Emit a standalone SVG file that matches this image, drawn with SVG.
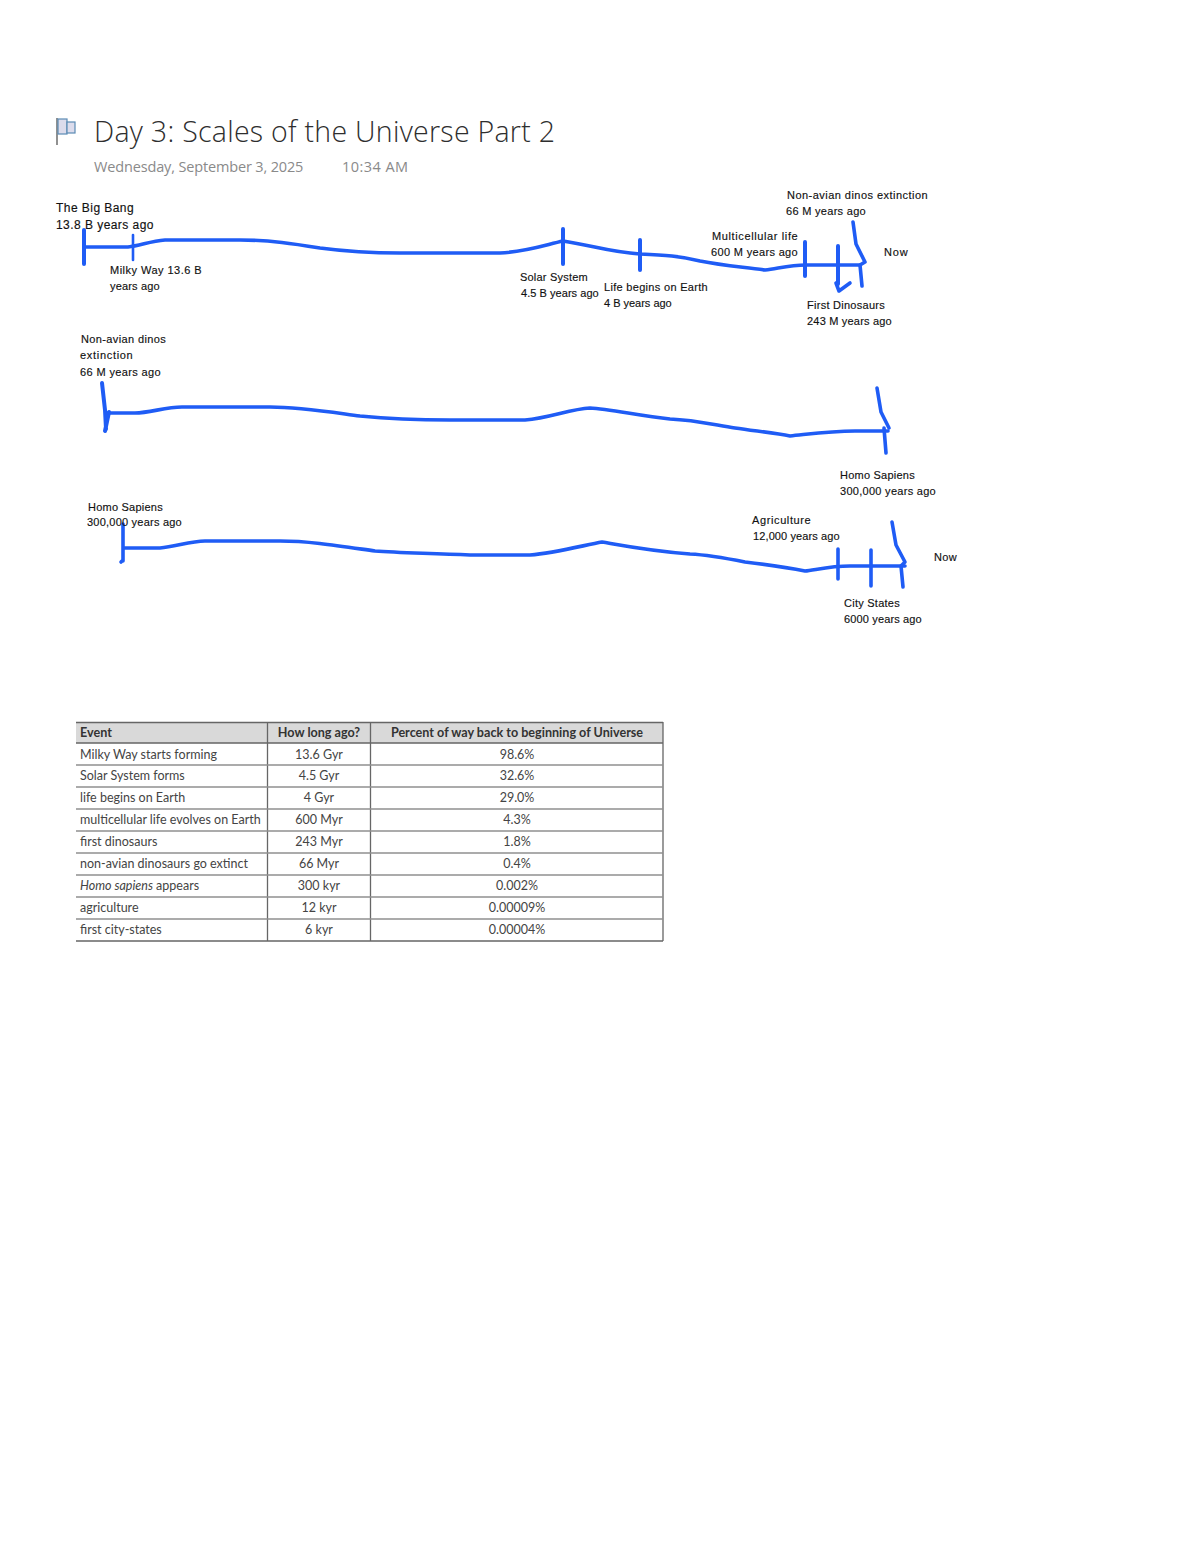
<svg xmlns="http://www.w3.org/2000/svg" width="1200" height="1553" viewBox="0 0 1200 1553">
<style>
.ink{fill:none;stroke:#1f5cf5;stroke-width:3.6;stroke-linecap:round;stroke-linejoin:round}
.tick{stroke-width:4}
.thin{stroke-width:2.600}
.l{font-family:"Liberation Sans",Arial,sans-serif;font-size:11px;fill:#111;letter-spacing:.3px;stroke:#111;stroke-width:.15px}
.big{font-size:12px;letter-spacing:.45px}
.title{font-family:"Open Sans","Liberation Sans",sans-serif;font-weight:300;font-size:28.500px;fill:#2e2e2e}
.sub{font-family:"Open Sans","Liberation Sans",sans-serif;font-size:14.500px;fill:#8a8a8a;letter-spacing:-.15px}
.t{font-family:Lato,"Liberation Sans",sans-serif;font-size:12.500px;fill:#444}
.c{text-anchor:middle}
.b{font-weight:bold;fill:#333;font-size:12.600px}
.g{stroke:#666;stroke-width:1.300;fill:none}
.g2{stroke:#909090;stroke-width:1.300;fill:none}
</style>
<rect width="1200" height="1553" fill="#fff"/>
<g id="header">
<path d="M57 118V145" stroke="#555" stroke-width="1.300" fill="none"/>
<rect x="58" y="119" width="9" height="15" fill="#dcdcec" stroke="#5b8bb5" stroke-width="1.200"/>
<rect x="67" y="122" width="8" height="11" fill="#dcdcec" stroke="#5b8bb5" stroke-width="1.200"/>
<text class="title" x="94" y="142" textLength="461">Day 3: Scales of the Universe Part 2</text>
<text class="sub" x="94" y="172">Wednesday, September 3, 2025</text>
<text class="sub" x="342" y="172" textLength="66">10:34 AM</text>
</g>
<g id="connectors">
<path class="ink" d="M84 247H128C140 246 150 241 165 240H240C270 240 295 244 320 248C350 252 370 253 400 253H500C525 252 545 245 563 241C590 245 610 252 640 254C665 255 680 256 700 261C725 266 745 267 765 270C780 268 790 265 806 265H860"/>
<path class="ink tick" d="M84 230V264M563 229V264M640 240V270M805 242V276M838 246V284"/>
<path class="ink thin" d="M133 235V260"/>
<path class="ink" d="M836 283L839 291L850 283"/>
<path class="ink" d="M853 222L856 244L865 262L860 265L862 286"/>
<path class="ink tick" d="M102 383L105 410L106 429M109 412L105 431"/>
<path class="ink" d="M108 413H135C150 413 165 407 182 407H270C300 407 330 412 360 416C390 419 420 420 450 420H525C550 418 570 409 590 408C610 409 640 416 670 419C695 420 715 425 735 428C755 431 775 433 790 436C810 434 830 431 855 431H888"/>
<path class="ink" d="M877 388L881 412L889 428M884 428L886 453"/>
<path class="ink" d="M123 524V561M122 561L121 562"/>
<path class="ink" d="M124 548H160C175 547 190 541 205 541H280C310 541 340 546 375 551C400 553 430 553 470 555H530C555 553 585 545 602 542C625 546 650 551 690 554C710 555 725 558 745 562C770 565 790 568 805 571C815 570 830 566 850 566H905"/>
<path class="ink" d="M838 549V579M871 550V586M892 522L896 545L905 562L901 566L903 587"/>
</g>
<g id="label-big-bang"><text class="l big" x="56" y="212">The Big Bang</text><text class="l big" x="56" y="229">13.8 B years ago</text></g>
<g id="label-milky-way"><text class="l" x="110" y="274" textLength="92">Milky Way 13.6 B</text><text class="l" x="110" y="290" textLength="50">years ago</text></g>
<g id="label-solar"><text class="l" x="520" y="281" textLength="68">Solar System</text><text class="l" x="521" y="297" textLength="78">4.5 B years ago</text></g>
<g id="label-life"><text class="l" x="604" y="291" textLength="104">Life begins on Earth</text><text class="l" x="604" y="307" textLength="68">4 B years ago</text></g>
<g id="label-multi"><text class="l" x="712" y="240" textLength="86">Multicellular life</text><text class="l" x="711" y="256" textLength="87">600 M years ago</text></g>
<g id="label-extinction-1"><text class="l" x="787" y="199" textLength="141">Non-avian dinos extinction</text><text class="l" x="786" y="215" textLength="80">66 M years ago</text></g>
<g id="label-now-1"><text class="l" x="884" y="256" textLength="24">Now</text></g>
<g id="label-first-dinos"><text class="l" x="807" y="309" textLength="78">First Dinosaurs</text><text class="l" x="807" y="325" textLength="85">243 M years ago</text></g>
<g id="label-extinction-2"><text class="l" x="81" y="343" textLength="85">Non-avian dinos</text><text class="l" x="80" y="359" textLength="53">extinction</text><text class="l" x="80" y="376" textLength="81">66 M years ago</text></g>
<g id="label-homo-2"><text class="l" x="840" y="479" textLength="75">Homo Sapiens</text><text class="l" x="840" y="495" textLength="96">300,000 years ago</text></g>
<g id="label-homo-3"><text class="l" x="88" y="511" textLength="75">Homo Sapiens</text><text class="l" x="87" y="526" textLength="95">300,000 years ago</text></g>
<g id="label-agri"><text class="l" x="752" y="524" textLength="59">Agriculture</text><text class="l" x="753" y="540" textLength="87">12,000 years ago</text></g>
<g id="label-now-3"><text class="l" x="934" y="561" textLength="23">Now</text></g>
<g id="label-city"><text class="l" x="844" y="607" textLength="56">City States</text><text class="l" x="844" y="623" textLength="78">6000 years ago</text></g>
<g id="table">
<rect x="76" y="722" width="587" height="21" fill="#d9d9d9"/>
<path class="g" d="M76 722.500H663M76 743H663M76 941H663M267.500 722V941M370.500 722V941M663 722V941"/>
<path class="g2" d="M76 765H663M76 787H663M76 809H663M76 831H663M76 853H663M76 875H663M76 897H663M76 919H663"/>
<text class="t b" x="80" y="737">Event</text><text class="t b c" x="319" y="737">How long ago?</text><text class="t b c" x="517" y="737">Percent of way back to beginning of Universe</text>
<text class="t" x="80" y="759">Milky Way starts forming</text><text class="t c" x="319" y="759">13.6 Gyr</text><text class="t c" x="517" y="759">98.6%</text>
<text class="t" x="80" y="780">Solar System forms</text><text class="t c" x="319" y="780">4.5 Gyr</text><text class="t c" x="517" y="780">32.6%</text>
<text class="t" x="80" y="802">life begins on Earth</text><text class="t c" x="319" y="802">4 Gyr</text><text class="t c" x="517" y="802">29.0%</text>
<text class="t" x="80" y="824">multicellular life evolves on Earth</text><text class="t c" x="319" y="824">600 Myr</text><text class="t c" x="517" y="824">4.3%</text>
<text class="t" x="80" y="846">first dinosaurs</text><text class="t c" x="319" y="846">243 Myr</text><text class="t c" x="517" y="846">1.8%</text>
<text class="t" x="80" y="868">non-avian dinosaurs go extinct</text><text class="t c" x="319" y="868">66 Myr</text><text class="t c" x="517" y="868">0.4%</text>
<text class="t" x="80" y="890"><tspan font-style="italic">Homo sapiens</tspan> appears</text><text class="t c" x="319" y="890">300 kyr</text><text class="t c" x="517" y="890">0.002%</text>
<text class="t" x="80" y="912">agriculture</text><text class="t c" x="319" y="912">12 kyr</text><text class="t c" x="517" y="912">0.00009%</text>
<text class="t" x="80" y="934">first city-states</text><text class="t c" x="319" y="934">6 kyr</text><text class="t c" x="517" y="934">0.00004%</text>
</g>
</svg>
